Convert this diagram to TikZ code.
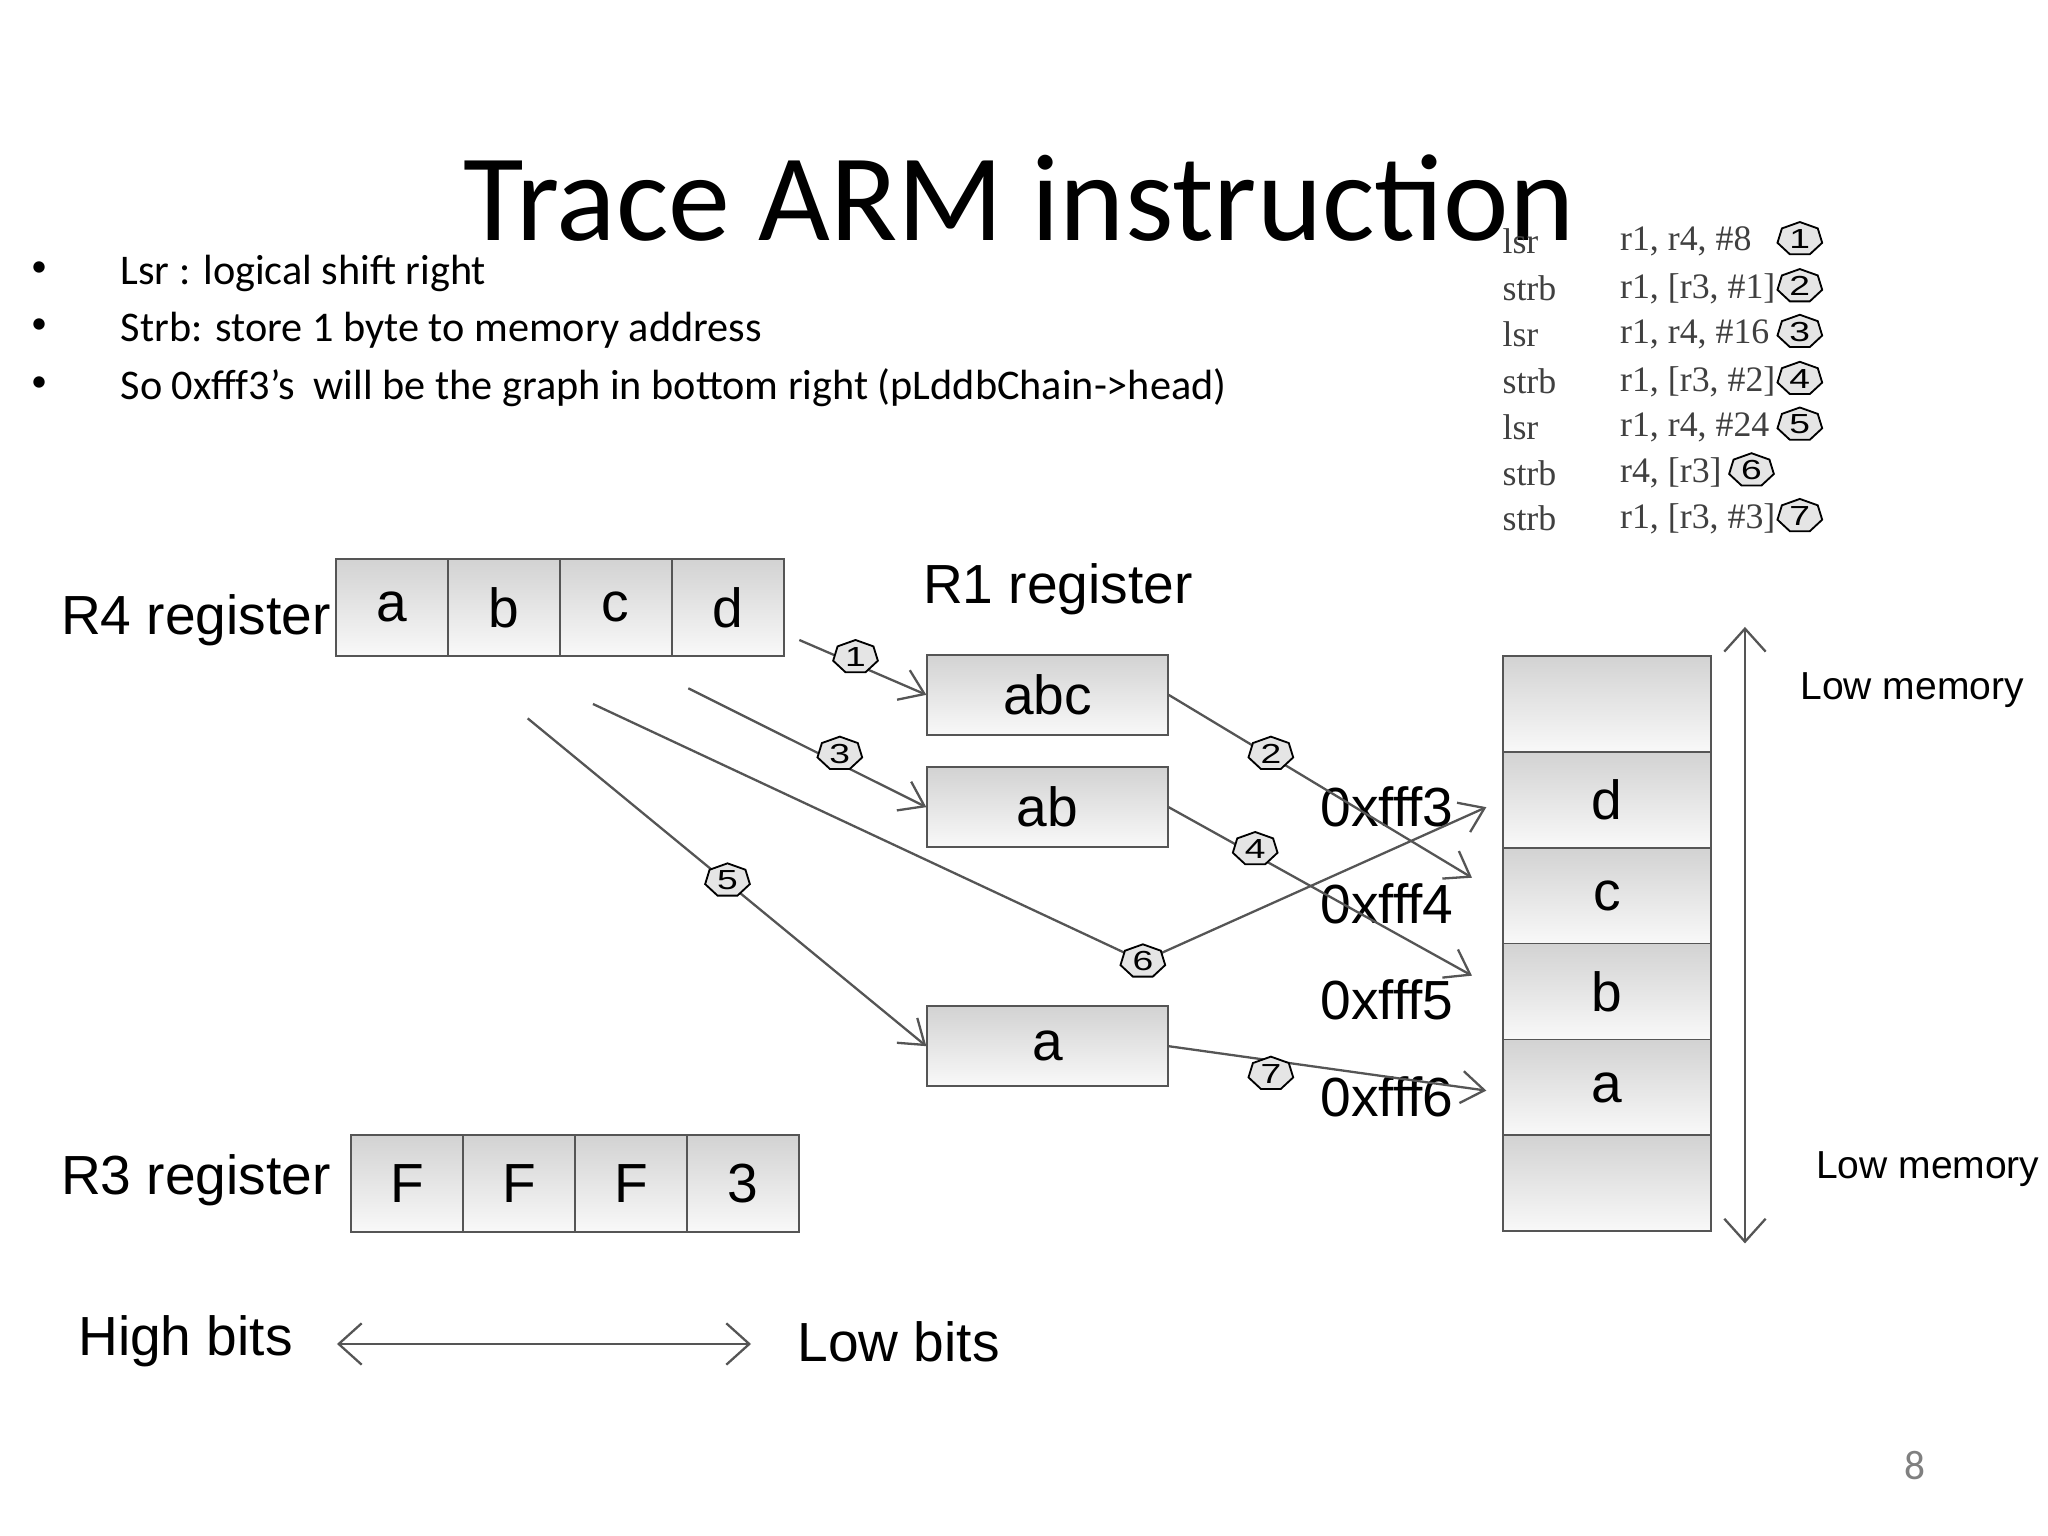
\documentclass[tikz,border=0pt]{standalone}
\usepackage{fontspec}
\setmainfont{Liberation Sans}
\newfontfamily\calfnt{Carlito}
\newfontfamily\serfnt{Liberation Serif}
\usetikzlibrary{shapes.geometric,arrows.meta}
\definecolor{ln}{HTML}{555555}
\begin{document}
\begin{tikzpicture}[x=0.01cm,y=-0.01cm,
 bx/.style={draw=ln,top color=gray!35,bottom color=gray!5,inner sep=0pt,font=\fontsize{12}{12}\selectfont},
 badge/.style={draw=black,fill=gray!20,regular polygon,regular polygon sides=7,inner sep=0pt,minimum size=0.26cm,xscale=1.35,font=\fontsize{6}{6}\selectfont},
 con/.style={draw=ln,line width=0.5pt},
 arr/.style={con,-{Straight Barb[length=5pt,width=7pt]}},
 lab/.style={font=\fontsize{12}{12}\selectfont},
 ins/.style={font=\serfnt\fontsize{7.8}{8}\selectfont,anchor=west,text=black!75}]
\useasboundingbox (0,0) rectangle (1568,1176);
\node[font=\calfnt\fontsize{27}{27}\selectfont] (title) at (780,152) {Trace ARM instruction};
\foreach \y/\t [count=\i] in {209/{Lsr : logical shift right},253/{Strb: store 1 byte to memory address},297/{So 0xfff3’s\ \ will be the graph in bottom right (pLddbChain->head)}}{
 \node[font=\calfnt\fontsize{7}{7}\selectfont] (bul\i) at (30,\y-3) {•};
 \node[font=\calfnt\fontsize{9.2}{10}\selectfont,anchor=west] (bt\i) at (80,\y) {\t};}
% instructions
\foreach \y/\m/\o/\bxx [count=\i] in {185/lsr/{r1, r4, \#8}/1378,221/strb/{r1, [r3, \#1]}/1378,256/lsr/{r1, r4, \#16}/1378,292/strb/{r1, [r3, \#2]}/1378,327/lsr/{r1, r4, \#24}/1378,362/strb/{r4, [r3]}/1341,397/strb/{r1, [r3, \#3]}/1378}{
 \node[ins] (im\i) at (1138,\y) {\m};
 \node[ins] (io\i) at (1228,\y) {\o};
 \node[badge] (ib\i) at (\bxx,\y-2) {\i};}
% R4
\foreach \t [count=\i] in {a,b,c,d}{
 \node[bx,minimum width=0.857cm,minimum height=0.74cm] (r4\i) at (257+85.75*\i-42.9,465) {\t};}
\node[lab] (r4l) at (150,475) {R4 register};
\foreach \t [count=\i] in {F,F,F,3}{
 \node[bx,minimum width=0.857cm,minimum height=0.74cm] (r3\i) at (269+85.75*\i-42.9,906) {\t};}
\node[lab] (r3l) at (150,904) {R3 register};
\node[lab] (r1l) at (810,451) {R1 register};
\node[bx,minimum width=1.84cm,minimum height=0.61cm] (abc) at (802,532) {abc};
\node[bx,minimum width=1.84cm,minimum height=0.61cm] (ab) at (802,618) {ab};
\node[bx,minimum width=1.84cm,minimum height=0.61cm] (ra) at (802,801) {a};
% memory
\foreach \t [count=\i] in {{},d,c,b,a,{}}{
 \node[bx,minimum width=1.59cm,minimum height=0.735cm] (m\i) at (1230.5,539+73.4*\i-73.4) {\t};}
\foreach \t [count=\i] in {0xfff3,0xfff4,0xfff5,0xfff6}{
 \node[lab] (ad\i) at (1062,618+73.8*\i-73.8) {\t};}
\node[font=\fontsize{8.5}{9}\selectfont] (lm1) at (1464,528) {Low memory};
\node[font=\fontsize{8.5}{9}\selectfont] (lm2) at (1476,895) {Low memory};
\coordinate (va) at (1336,480); \coordinate (vb) at (1336,952);
\draw[con,{Straight Barb[length=5pt,width=9pt]}-{Straight Barb[length=5pt,width=9pt]}] (va) -- (vb);
\node[lab] (hb) at (142,1027) {High bits};
\node[lab] (lb) at (688,1027) {Low bits};
\coordinate (ha) at (258,1029); \coordinate (hz) at (575,1029);
\draw[con,{Straight Barb[length=5pt,width=9pt]}-{Straight Barb[length=5pt,width=9pt]}] (ha) -- (hz);
\node[font=\calfnt\fontsize{9}{9}\selectfont,text=gray] (pg) at (1466,1122) {8};
% connectors
\coordinate (s1) at (612,490); \coordinate (s3) at (527,527);
\coordinate (s5) at (404,550); \coordinate (s6) at (454,539);
\coordinate (e2) at (1127,672); \coordinate (e4) at (1127,747);
\coordinate (e6) at (1138,618); \coordinate (e7) at (1138,835);
\coordinate (p6) at (875,736);
\draw[arr] (s1) -- (abc.west);
\draw[arr] (s3) -- (ab.west);
\draw[arr] (s5) -- (ra.west);
\draw[arr] (s6) -- (p6) -- (e6);
\draw[arr] (abc.east) -- (e2);
\draw[arr] (ab.east) -- (e4);
\draw[arr] (ra.east) -- (e7);
\node[badge] (b1) at (655,503) {1};
\node[badge] (b3) at (643,577) {3};
\node[badge] (b5) at (557,674) {5};
\node[badge] (b6) at (875,736) {6};
\node[badge] (b2) at (973,577) {2};
\node[badge] (b4) at (961,650) {4};
\node[badge] (b7) at (973,822) {7};
\end{tikzpicture}
\end{document}
